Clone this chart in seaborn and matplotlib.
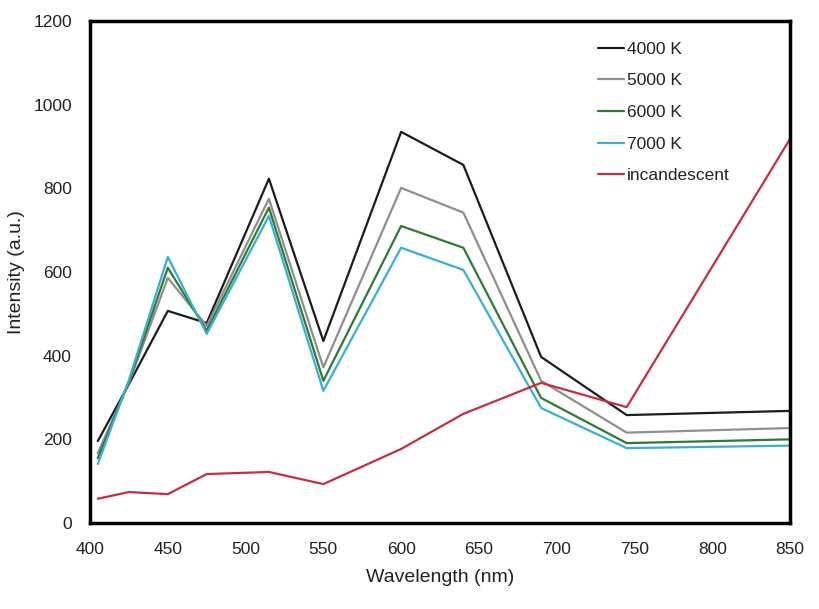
import matplotlib
matplotlib.use("Agg")
import matplotlib.pyplot as plt
import seaborn as sns
import pandas as pd

wavelength = [405, 425, 450, 475, 515, 550, 600, 640, 690, 745, 850]
k4000 = [196, 332, 507, 478, 823, 435, 935, 856, 397, 258, 268]
k5000 = [167, 335, 586, 471, 775, 372, 801, 742, 340, 216, 227]
k6000 = [155, 338, 610, 460, 754, 340, 710, 658, 299, 191, 200]
k7000 = [141, 342, 636, 452, 734, 316, 658, 605, 275, 179, 185]
incandescent = [58, 74, 69, 117, 122, 93, 177, 261, 335, 277, 918]

labels = ["4000 K", "5000 K", "6000 K", "7000 K", "incandescent"]
colors = ["#1c1c1c", "#8f8f8f", "#2f7a34", "#3aaed6", "#c4303c"]
series = [k4000, k5000, k6000, k7000, incandescent]

rows = []
for lab, vals in zip(labels, series):
    for w, v in zip(wavelength, vals):
        rows.append({"Wavelength": w, "Intensity": v, "Series": lab})
df = pd.DataFrame(rows)

sns.set_theme(style="white")
plt.rcParams["font.family"] = ["Liberation Sans", "DejaVu Sans"]

fig = plt.figure(figsize=(8.2, 6.09), dpi=100)
ax = fig.add_axes([0.1098, 0.1412, 0.8536, 0.8243])

sns.lineplot(data=df, x="Wavelength", y="Intensity", hue="Series",
             hue_order=labels, palette=dict(zip(labels, colors)),
             linewidth=1.6, ax=ax, sort=False)

ax.set_xlim(400, 850)
ax.set_ylim(0, 1200)
ax.set_xticks(range(400, 851, 50))
ax.set_yticks(range(0, 1201, 200))
ax.tick_params(axis="both", length=0, labelsize=12.5, colors="#222222")
ax.tick_params(axis="x", pad=14)
ax.tick_params(axis="y", pad=13)
for s in ax.spines.values():
    s.set_visible(True)
    s.set_color("black")
    s.set_linewidth(2.5)

ax.set_xlabel("Wavelength (nm)", fontsize=14, color="#222222", labelpad=8)
ax.set_ylabel("Intensity (a.u.)", fontsize=14, color="#222222", labelpad=6)

leg = ax.legend(loc="upper right", bbox_to_anchor=(0.936, 0.99), frameon=False,
                fontsize=12.5, handlelength=1.5, handletextpad=0.15,
                labelspacing=0.95)
for t in leg.get_texts():
    t.set_color("#222222")

fig.savefig("out.png", dpi=100)
